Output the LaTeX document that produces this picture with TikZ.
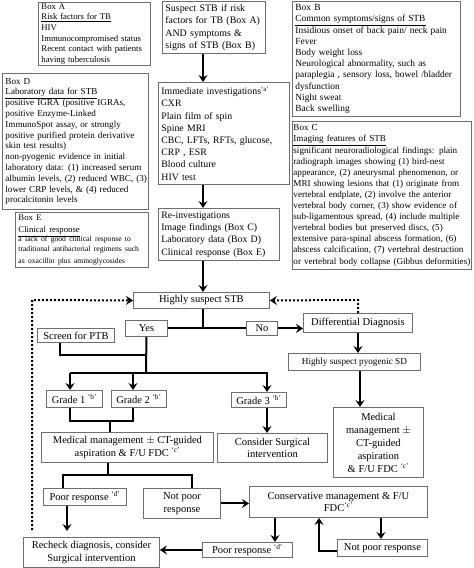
\documentclass[tikz,border=0pt]{standalone}
\usepackage{fontspec}
\setmainfont{Liberation Serif}
\usetikzlibrary{arrows.meta}
\definecolor{bordergray}{RGB}{110,110,110}
\newcommand{\fs}[2]{\fontsize{#1}{#2}\selectfont}
\newcommand{\sqm}[1]{\textsuperscript{‘#1’}}
\newcommand{\nowrapln}{\lineskiplimit=-100pt\relax\rightskip=-40pt plus 1fil\relax\hyphenpenalty=10000\relax}
\begin{document}
\begin{tikzpicture}[x=1pt,y=-1pt,
  bx/.style={draw=bordergray, line width=0.9pt, anchor=north west, inner xsep=3pt, inner ysep=1pt},
  lbox/.style={bx, align=left},
  cbox/.style={bx, align=center, font=\fs{10.5}{12.5}},
  conn/.style={line width=2pt, black, line join=miter},
  dotconn/.style={conn, dash pattern=on 2pt off 2pt},
  >={Stealth[length=7pt,width=9pt,inset=2.5pt]}
]
\useasboundingbox[fill=white] (0,0) rectangle (474,568);

% ---------- left-aligned information boxes ----------
\node[lbox, text width=106pt, minimum height=63pt, font=\fs{8.7}{10.6}] (boxa) at (38,2)
 {\nowrapln Box A\\ \underline{Risk factors for TB}\\ HIV\\ Immunocompromised status\\ Recent contact with patients\\ having tuberculosis};
\node[lbox, text width=97pt, minimum height=52pt, font=\fs{9.9}{12.5}] (suspect) at (162,1)
 {\nowrapln Suspect STB if risk\\ factors for TB (Box A)\\ AND symptoms \&\\ signs of STB (Box B)};
\node[lbox, text width=162pt, minimum height=115pt, font=\fs{9.4}{11.2}] (boxb) at (292,1)
 {\nowrapln Box B\\ \underline{Common symptoms/signs of STB}\\ Insidious onset of back pain/ neck pain\\ Fever\\ Body weight loss\\ Neurological abnormality, such as\\ paraplegia , sensory loss, bowel /bladder\\ dysfunction\\ Night sweat\\ Back swelling};
\node[lbox, text width=140pt, minimum height=136pt, font=\fs{9.1}{10.8}] (boxd) at (2,73)
 {\nowrapln Box D\\ \underline{Laboratory data for STB}\\ positive IGRA (positive IGRAs,\\ positive Enzyme-Linked\\ ImmunoSpot assay, or strongly\\ positive purified protein derivative\\ skin test results)\\ non-pyogenic evidence in initial\\ laboratory data: (1) increased serum\\ albumin levels, (2) reduced WBC, (3)\\ lower CRP levels, \& (4) reduced\\ procalcitonin levels};
\node[lbox, text width=125pt, minimum height=102pt, font=\fs{9.8}{12.2}] (immed) at (158,82)
 {\nowrapln Immediate investigations\sqm{a}\\ CXR\\ Plain film of spin\\ Spine MRI\\ CBC, LFTs, RFTs, glucose,\\ CRP , ESR\\ Blood culture\\ HIV test};
\node[lbox, inner xsep=1pt, text width=177pt, minimum height=148pt, font=\fs{9.1}{11.1}] (boxc) at (292,121)
 {\nowrapln Box C\\ \underline{Imaging features of STB}\\ significant neuroradiological findings: plain\\ radiograph images showing (1) bird-nest\\ appearance, (2) aneurysmal phenomenon, or\\ MRI showing lesions that (1) originate from\\ vertebral endplate, (2) involve the anterior\\ vertebral body corner, (3) show evidence of\\ sub-ligamentous spread, (4) include multiple\\ vertebral bodies but preserved discs, (5)\\ extensive para-spinal abscess formation, (6)\\ abscess calcification, (7) vertebral destruction\\ or vertebral body collapse (Gibbus deformities)};
\node[lbox, text width=127pt, minimum height=55pt] (boxe) at (15,212)
 {\nowrapln\fs{8.7}{12}Box E\\ \underline{Clinical response}\par
  \fs{7.6}{9.4}a lack of good clinical response to\\ traditional antibacterial regimens such\\ as oxacillin plus aminoglycosides};
\node[lbox, text width=115pt, minimum height=52pt, font=\fs{9.8}{12.3}] (reinv) at (158,208)
 {\nowrapln Re-investigations\\ Image findings (Box C)\\ Laboratory data (Box D)\\ Clinical response (Box E)};

% ---------- flowchart boxes ----------
\node[cbox, minimum width=136pt, minimum height=16pt] (hs) at (133,292) {Highly suspect STB};
\node[cbox, minimum width=42pt, minimum height=16pt] (yes) at (125,320) {Yes};
\node[cbox, minimum width=77pt, minimum height=14pt] (screen) at (37,328) {Screen for PTB};
\node[cbox, minimum width=31pt, minimum height=14pt] (no) at (246,321) {No};
\node[cbox, minimum width=109pt, minimum height=19pt] (diff) at (303,313) {Differential Diagnosis};
\node[cbox, minimum width=132pt, minimum height=17pt, font=\fs{9.2}{11}] (pyo) at (288,353) {Highly suspect pyogenic SD};
\node[cbox, minimum width=56pt, minimum height=17pt] (g1) at (46,390) {Grade 1 \sqm{b}};
\node[cbox, minimum width=55pt, minimum height=17pt] (g2) at (111,390) {Grade 2 \sqm{b}};
\node[cbox, minimum width=55pt, minimum height=15pt] (g3) at (231,392) {Grade 3 \sqm{b}};
\node[cbox, minimum width=172pt, minimum height=30pt] (mm) at (41,432) {Medical management $\pm$ CT-guided\\ aspiration \& F/U FDC \sqm{c}};
\node[cbox, minimum width=110pt, minimum height=29pt] (cs) at (217,433) {Consider Surgical\\ intervention};
\node[cbox, minimum width=90pt, minimum height=70pt, font=\fs{10.5}{13}] (mmr) at (333,407) {Medical\\ management $\pm$\\ CT-guided\\ aspiration\\ \& F/U FDC \sqm{c}};
\node[cbox, minimum width=83pt, minimum height=17pt] (pr1) at (43,488) {Poor response \sqm{d}};
\node[cbox, minimum width=77pt, minimum height=30pt] (npr1) at (143,488) {Not poor\\ response};
\node[cbox, minimum width=178pt, minimum height=31pt] (cons) at (249,486) {Conservative management \& F/U\\ FDC\sqm{c}};
\node[cbox, minimum width=136pt, minimum height=30pt] (rc) at (23,537) {Recheck diagnosis, consider\\ Surgical intervention};
\node[cbox, minimum width=90pt, minimum height=15pt] (pr2) at (202,542) {Poor response \sqm{d}};
\node[cbox, minimum width=90pt, minimum height=17pt] (npr2) at (337,539) {Not poor response};

% ---------- coordinates ----------
\coordinate (cx) at (203,0);
\coordinate (jy) at (203,328);
\coordinate (yj) at (146,373);
\coordinate (sj) at (60,355);
\coordinate (sj2) at (146,355);
\coordinate (h1) at (70,373);
\coordinate (h1b) at (133,373);
\coordinate (h2) at (267,373);
\coordinate (gb1) at (70,421);
\coordinate (gb2) at (133,421);
\coordinate (gm) at (110,421);
\coordinate (dx) at (358,0);
\coordinate (px) at (360,0);
\coordinate (mj) at (108,475);
\coordinate (ml) at (63,475);
\coordinate (mr) at (192,475);
\coordinate (rx) at (67,0);
\coordinate (c1) at (275,0);
\coordinate (c2) at (381,0);
\coordinate (lp) at (319,551);
\coordinate (dt) at (358,300);
\coordinate (dl) at (32,530);
\coordinate (dl2) at (32,300);

% ---------- connectors ----------
\draw[conn,->] (suspect.south -| cx) -- (immed.north -| cx);
\draw[conn,->] (immed.south -| cx) -- (reinv.north -| cx);
\draw[conn,->] (reinv.south -| cx) -- (hs.north -| cx);
\draw[conn] (hs.south -| cx) -- (jy);
\draw[conn] (yes.east) -- (no.west);
\draw[conn,->] (no.east) -- (no.east -| diff.west);
\draw[conn] (yes.south) -- (yj);
\draw[conn] (screen.south -| sj) -- (sj) -- (sj2);
\draw[conn,->] (h1) -- (h2) -- (g3.north -| h2);
\draw[conn,->] (h1) -- (g1.north -| h1);
\draw[conn,->] (h1b) -- (g2.north -| h1b);
\draw[conn] (g1.south -| gb1) -- (gb1) -- (gb2) -- (g2.south -| gb2);
\draw[conn] (gm) -- (mm.north -| gm);
\draw[conn,->] (g3.south -| h2) -- (cs.north -| h2);
\draw[conn,->] (diff.south -| dx) -- (pyo.north -| dx);
\draw[conn,->] (pyo.south -| px) -- (mmr.north -| px);
\draw[conn] (mm.south -| mj) -- (mj);
\draw[conn] (pr1.north -| ml) -- (ml) -- (mr) -- (npr1.north -| mr);
\draw[conn,->,shorten >=6pt] (pr1.south -| rx) -- (rc.north -| rx);
\draw[conn,->] (npr1.east) -- (npr1.east -| cons.west);
\draw[conn,->] (cons.south -| c1) -- (pr2.north -| c1);
\draw[conn,->] (cons.south -| c2) -- (npr2.north -| c2);
\draw[conn,->] (npr2.west |- lp) -- (lp) -- (cons.south -| lp);
\draw[conn,->] (pr2.west) -- (pr2.west -| rc.east);
\draw[dotconn,->] (diff.north -| dt) -- (dt) -- (hs.east);
\draw[dotconn,->] (dl) -- (dl2) -- (hs.west);
\end{tikzpicture}
\end{document}
